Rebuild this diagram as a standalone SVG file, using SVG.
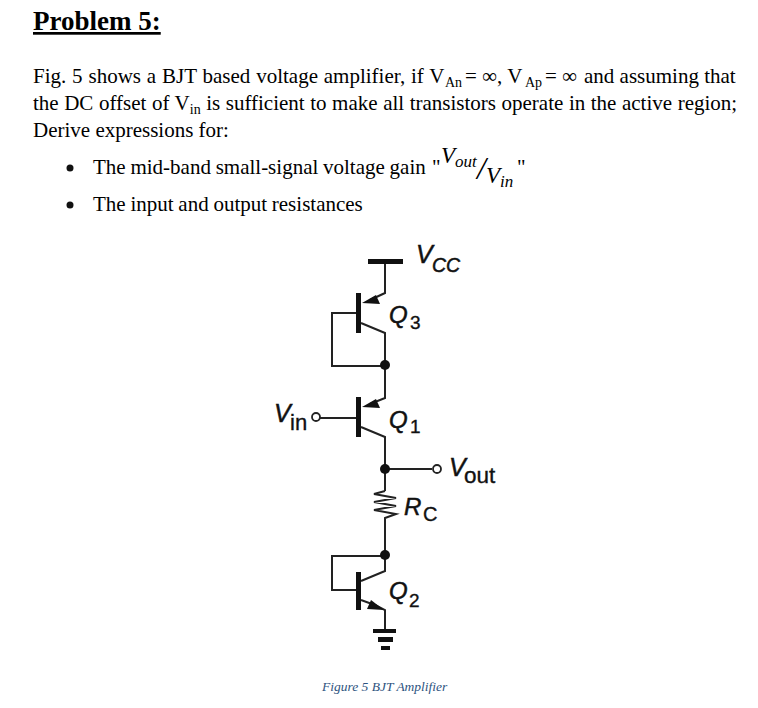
<svg xmlns="http://www.w3.org/2000/svg" width="758" height="708" viewBox="0 0 758 708">
<style>
.t{font-family:"Liberation Serif",serif;font-size:21px;fill:#000}
.s{font-family:"Liberation Serif",serif;font-size:14px;fill:#000}
.i{font-family:"Liberation Serif",serif;font-style:italic;fill:#000}
.a{font-family:"Liberation Sans",Arial,sans-serif;font-style:italic;fill:#111;stroke:#111;stroke-width:.5}
.n{font-family:"Liberation Sans",Arial,sans-serif;fill:#111;stroke:#111;stroke-width:.35}
.w{fill:none;stroke:#222;stroke-width:2}
.b{fill:#111}
.o{fill:#fff;stroke:#222;stroke-width:1.8}
</style>
<defs>
<polygon id="ah" points="0,0 14,-8 18,1" class="b"/>
</defs>
<rect width="758" height="708" fill="#fff"/>
<g id="text">
<text x="33" y="30" font-family="Liberation Serif, serif" font-weight="bold" font-size="27" fill="#000" text-decoration="underline">Problem 5:</text>
<text class="t" x="33" y="83" word-spacing=".6">Fig. 5 shows a BJT based voltage amplifier, if V</text>
<text class="s" x="445" y="87">An</text>
<text class="t" x="465" y="83">= ∞, V</text>
<text class="s" x="525" y="87">Ap</text>
<text class="t" x="545" y="83">= ∞</text>
<text class="t" x="584" y="83">and assuming that</text>
<text class="t" x="33" y="110" word-spacing=".3">the DC offset of V<tspan class="s" dy="4">in</tspan><tspan dy="-4"> is sufficient to make all transistors operate in the active region;</tspan></text>
<text class="t" x="33" y="137">Derive expressions for:</text>
<circle class="b" cx="70" cy="168" r="3.5"/>
<text class="t" x="93" y="174" word-spacing="-.5">The mid-band small-signal voltage gain</text>
<text class="t" x="432" y="174">"</text>
<text class="i" x="441" y="163" font-size="23">V</text>
<text class="i" x="455" y="167" font-size="17">out</text>
<text class="i" x="477" y="179" font-size="32">/</text>
<text class="i" x="486" y="183" font-size="23">V</text>
<text class="i" x="500" y="187" font-size="17">in</text>
<text class="t" x="517" y="174">"</text>
<circle class="b" cx="70" cy="205" r="3.5"/>
<text class="t" x="93" y="211" word-spacing="-.5">The input and output resistances</text>
<text x="322" y="691" font-family="Liberation Serif, serif" font-style="italic" font-size="13.5" fill="#2e5480">Figure 5 BJT Amplifier</text>
</g>
<g id="connectors">
<path class="w" d="M385 261V293L370 300"/>
<path class="w" d="M361 323L385 333V398L370 404"/>
<path class="w" d="M358 313H332V366H385"/>
<path class="w" d="M320 418H358"/>
<path class="w" d="M361 427L385 437V491"/>
<path class="w" d="M385 469H432"/>
<path class="w" d="M385 491L374 494L396 498L374 502L396 506L374 510L396 514L385 518V571L361 581"/>
<path class="w" d="M385 556H332V590H358"/>
<path class="w" d="M375 605L385 610V631"/>
<path class="w" d="M361 600L372 604"/>
</g>
<g id="Vcc"><rect class="b" x="368" y="259" width="35" height="5"/><text class="a" x="416" y="263" font-size="25">V</text><text class="a" x="432" y="272" font-size="19.5">CC</text></g>
<g id="Q3"><rect class="b" x="356" y="293" width="5" height="40"/><use href="#ah" x="362" y="303"/><text class="a" x="389" y="323" font-size="24">Q</text><text class="n" x="410" y="329" font-size="19">3</text></g>
<g id="Q1"><rect class="b" x="356" y="397" width="5" height="40"/><use href="#ah" x="362" y="407"/><text class="a" x="389" y="428" font-size="24">Q</text><text class="n" x="410" y="433" font-size="19">1</text></g>
<g id="Vin"><circle class="o" cx="316" cy="417" r="4"/><text class="a" x="274" y="422" font-size="25">V</text><text class="n" x="290" y="430" font-size="22">in</text></g>
<g id="Vout"><circle class="o" cx="437" cy="469" r="4"/><text class="a" x="449" y="476" font-size="25">V</text><text class="n" x="464" y="483" font-size="22.5">out</text></g>
<g id="J1"><circle class="b" cx="385" cy="365" r="5"/></g>
<g id="J2"><circle class="b" cx="385" cy="469" r="5"/></g>
<g id="J3"><circle class="b" cx="385" cy="555" r="5"/></g>
<g id="Rc"><text class="a" x="404" y="515" font-size="24">R</text><text class="n" x="423" y="521" font-size="20">C</text></g>
<g id="Q2"><rect class="b" x="356" y="572" width="5" height="38"/><polygon class="b" points="384,610 371,600 367,609"/><text class="a" x="389" y="599" font-size="24">Q</text><text class="n" x="409" y="607" font-size="19">2</text></g>
<g id="GND"><rect class="b" x="373" y="629" width="23" height="4"/><rect class="b" x="378" y="637" width="15" height="5"/><rect class="b" x="381" y="646" width="9" height="4"/></g>
</svg>
